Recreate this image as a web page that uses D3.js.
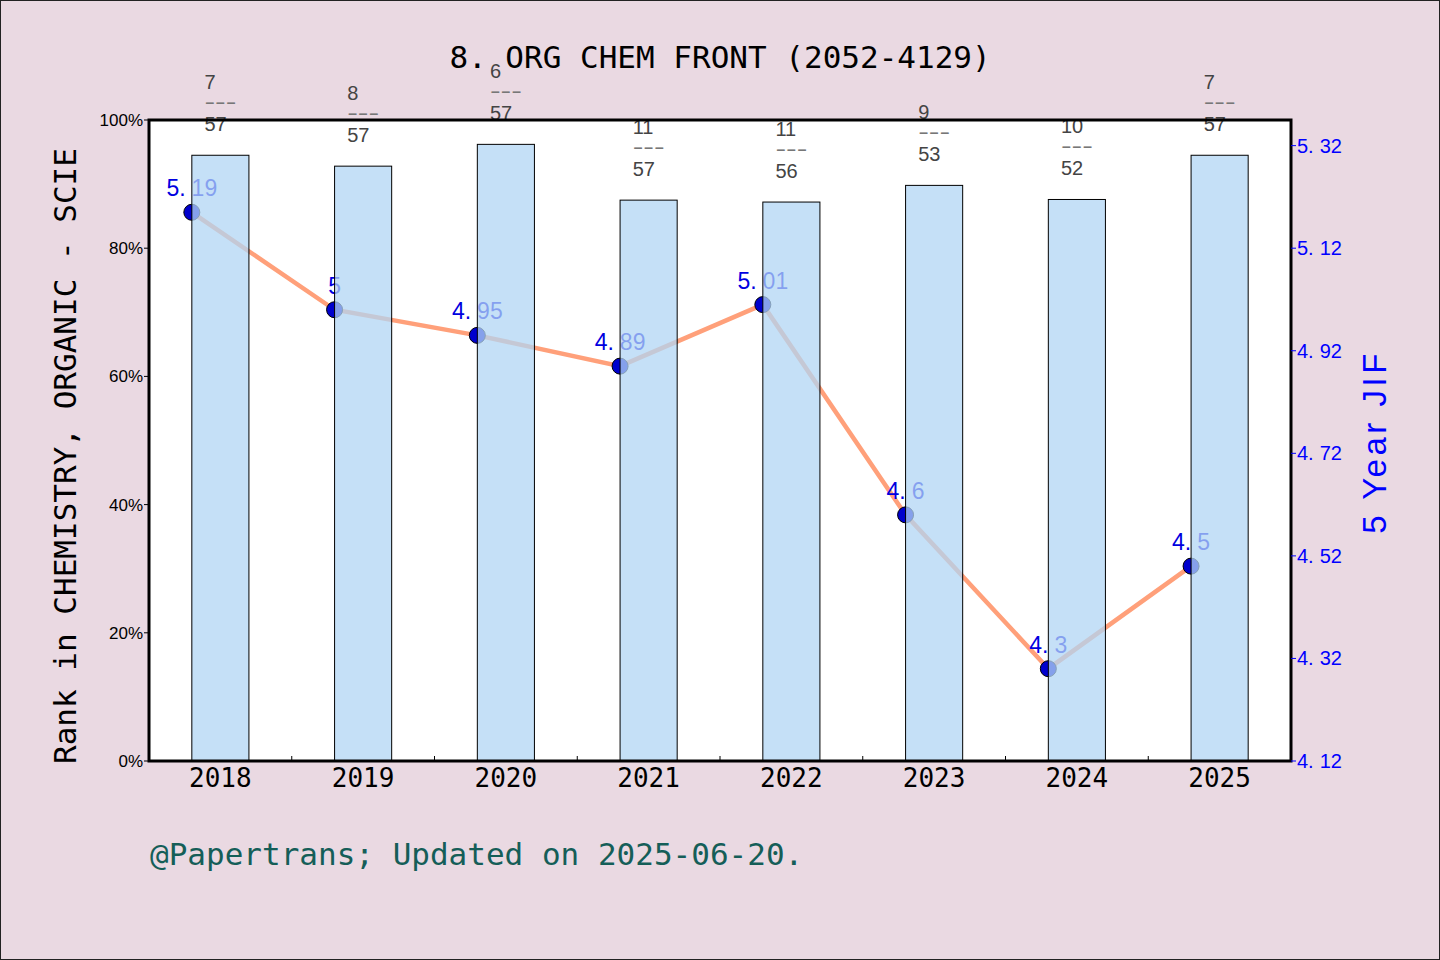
<!DOCTYPE html>
<html>
<head>
<meta charset="utf-8">
<script src="https://cdn.jsdelivr.net/npm/d3@7"></script>
<style>
html,body{margin:0;padding:0;background:#EAD9E2;}
svg{display:block;}
</style>
</head>
<body>
<svg id="chart" width="1440" height="960"></svg>
<script>
// ---- data ----
const years = ["2018","2019","2020","2021","2022","2023","2024","2025"];
const rankPct = [94.5, 92.8, 96.2, 87.5, 87.2, 89.8, 87.6, 94.5];
const ranks = [7, 8, 6, 11, 11, 9, 10, 7];
const totals = [57, 57, 57, 57, 56, 53, 52, 57];
const jif = [5.19, 5.0, 4.95, 4.89, 5.01, 4.6, 4.3, 4.5];
const leftTicks = [0, 20, 40, 60, 80, 100];
const rightTicks = [4.12, 4.32, 4.52, 4.72, 4.92, 5.12, 5.32];
const titleText = "8. ORG CHEM FRONT (2052-4129)";
const leftLabel = "Rank in CHEMISTRY, ORGANIC - SCIE";
const rightLabel = "5 Year JIF";
const footer = "@Papertrans; Updated on 2025-06-20.";

const svg = d3.select("#chart");
const L = 149, R = 1291, T = 120, B = 761;
const mono = "'DejaVu Sans Mono', monospace";
const sans = "'Liberation Sans', Arial, sans-serif";

svg.append("rect").attr("x",0.5).attr("y",0.5).attr("width",1439).attr("height",959)
  .attr("fill","#EAD9E2").attr("stroke","#222").attr("stroke-width",1);

const x = d3.scaleBand().domain(years).range([L, R]).padding(0);
const yL = d3.scaleLinear().domain([0, 100]).range([B, T]);
const yR = d3.scaleLinear().domain([4.12, 5.37]).range([B, T]);
const bw = x.bandwidth() * 0.4;
const cx = d => x(d) + x.bandwidth()/2;
const px = d => cx(d) - bw/2;

// plot background
svg.append("rect").attr("x",L).attr("y",T).attr("width",R-L).attr("height",B-T).attr("fill","#fff");

// title
svg.append("text").attr("x",720).attr("y",68).attr("text-anchor","middle")
  .attr("font-family",mono).attr("font-size",31).attr("fill","#000").text(titleText);

// line
const pts = years.map((y,i)=>({y, v:jif[i]}));
svg.append("path").datum(pts)
  .attr("d", d3.line().x(d=>px(d.y)).y(d=>yR(d.v)))
  .attr("fill","none").attr("stroke","#FFA07A").attr("stroke-width",4.5);

svg.selectAll("circle.pt").data(pts).join("circle").attr("class","pt")
  .attr("cx",d=>px(d.y)).attr("cy",d=>yR(d.v)).attr("r",8)
  .attr("fill","#0000CD").attr("stroke","#000").attr("stroke-width",1);

// value labels
const vl = svg.selectAll("text.vl").data(pts).join("text").attr("class","vl")
  .attr("x",d=>px(d.y)).attr("y",d=>yR(d.v)-16).attr("text-anchor","middle")
  .attr("font-family",sans).attr("font-size",23).attr("fill","#0000E0");
vl.each(function(d){
  const s = String(d.v).split(".");
  const t = d3.select(this);
  if (s.length === 1) { t.text(s[0]); }
  else {
    t.append("tspan").text(s[0] + ".");
    t.append("tspan").attr("dx",6).text(s[1]);
  }
});

// bars (semi-transparent, on top)
const bars = years.map((y,i)=>({y, p:rankPct[i], r:ranks[i], n:totals[i]}));
svg.selectAll("rect.bar").data(bars).join("rect").attr("class","bar")
  .attr("x",d=>cx(d.y)-bw/2).attr("width",bw)
  .attr("y",d=>yL(d.p)).attr("height",d=>B-yL(d.p))
  .attr("fill","rgba(178,214,244,0.75)").attr("stroke","#000").attr("stroke-width",1);

// bar labels (rank / total)
const bl = svg.selectAll("g.bl").data(bars).join("g").attr("class","bl")
  .attr("transform",d=>`translate(${cx(d.y)-16},${yL(d.p)})`);
bl.append("text").attr("y",-66).attr("font-family",sans).attr("font-size",20).attr("fill","#444").text(d=>d.r);
bl.append("text").attr("y",-46).attr("font-family",sans).attr("font-size",20).attr("fill","#777")
  .attr("textLength",32).attr("lengthAdjust","spacingAndGlyphs").text("---");
bl.append("text").attr("y",-24).attr("font-family",sans).attr("font-size",20).attr("fill","#444").text(d=>d.n);

// minor x ticks at band boundaries
svg.selectAll("line.xt").data(years.slice(1)).join("line").attr("class","xt")
  .attr("x1",d=>x(d)).attr("x2",d=>x(d)).attr("y1",B).attr("y2",B-5)
  .attr("stroke","#000").attr("stroke-width",1);

// frame
svg.append("rect").attr("x",L).attr("y",T).attr("width",R-L).attr("height",B-T)
  .attr("fill","none").attr("stroke","#000").attr("stroke-width",3);

// left axis ticks
const lg = svg.append("g");
leftTicks.forEach(v=>{
  lg.append("line").attr("x1",L-5).attr("x2",L).attr("y1",yL(v)).attr("y2",yL(v)).attr("stroke","#000");
  lg.append("text").attr("x",L-6).attr("y",yL(v)).attr("dy","0.35em").attr("text-anchor","end")
    .attr("font-family",sans).attr("font-size",17).attr("fill","#000").text(v+"%");
});

// right axis ticks
const rg = svg.append("g");
rightTicks.forEach(v=>{
  rg.append("line").attr("x1",R).attr("x2",R+5).attr("y1",yR(v)).attr("y2",yR(v)).attr("stroke","#0000FF");
  const s = v.toFixed(2).split(".");
  const t = rg.append("text").attr("x",R+6).attr("y",yR(v)).attr("dy","0.35em")
    .attr("font-family",sans).attr("font-size",20).attr("fill","#0000FF");
  t.append("tspan").text(s[0]+".");
  t.append("tspan").attr("dx",6).text(s[1]);
});

// x labels
svg.selectAll("text.xl").data(years).join("text").attr("class","xl")
  .attr("x",d=>cx(d)).attr("y",787).attr("text-anchor","middle")
  .attr("font-family",mono).attr("font-size",26).attr("fill","#000").text(d=>d);

// axis titles
svg.append("text").attr("transform","translate(76,456) rotate(-90)").attr("text-anchor","middle")
  .attr("font-family",mono).attr("font-size",31).attr("fill","#000").text(leftLabel);
svg.append("text").attr("transform","translate(1386,442) rotate(-90)").attr("text-anchor","middle")
  .attr("font-family",sans).attr("font-size",33).attr("letter-spacing",3.5).attr("fill","#0000FF").text(rightLabel);

// footer
svg.append("text").attr("x",150).attr("y",865)
  .attr("font-family",mono).attr("font-size",31).attr("fill","#155E58").text(footer);
</script>
</body>
</html>
